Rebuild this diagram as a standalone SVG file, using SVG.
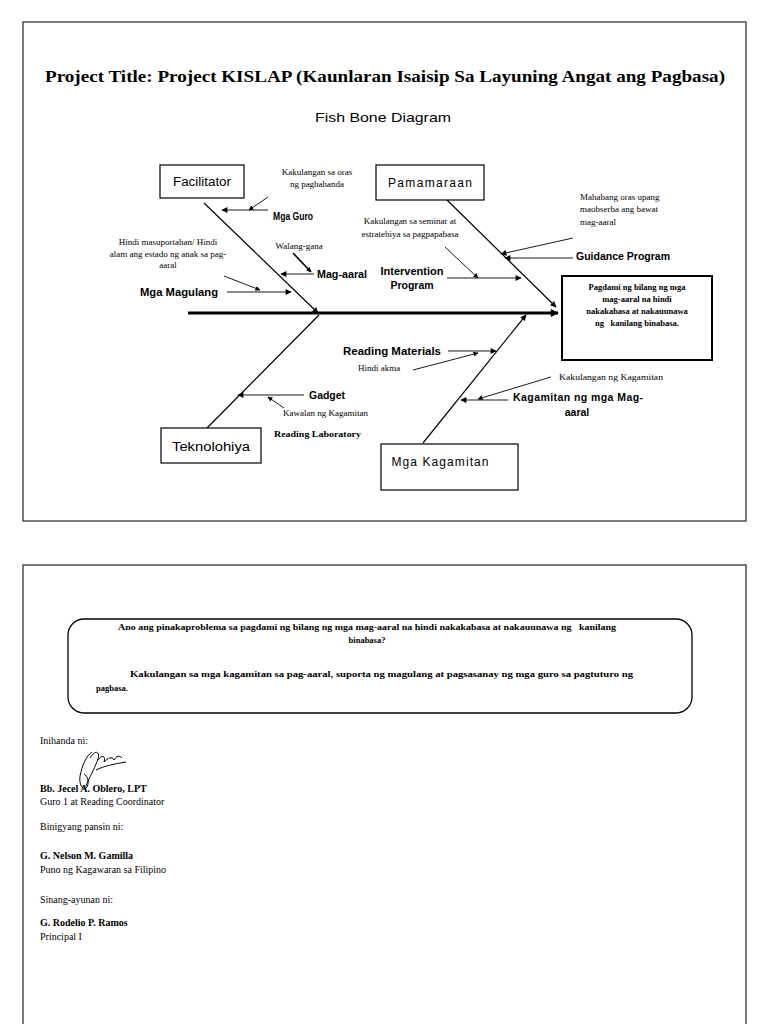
<svg xmlns="http://www.w3.org/2000/svg" width="768" height="1024" viewBox="0 0 768 1024">
<defs>
<marker id="ah" viewBox="0 0 10 10" refX="9" refY="5" markerWidth="7" markerHeight="6" markerUnits="userSpaceOnUse" orient="auto"><path d="M0,0 L10,5 L0,10 z" fill="#000"/></marker>
<marker id="ahs" viewBox="0 0 10 10" refX="9" refY="5" markerWidth="5" markerHeight="5" markerUnits="userSpaceOnUse" orient="auto"><path d="M0,0 L10,5 L0,10 z" fill="#000"/></marker>
<marker id="ahb" viewBox="0 0 10 10" refX="9" refY="5" markerWidth="9" markerHeight="8" markerUnits="userSpaceOnUse" orient="auto"><path d="M0,0 L10,5 L0,10 z" fill="#000"/></marker>
</defs>
<style>
.page{fill:#fff;stroke:#333;stroke-width:1.3}
.box{fill:#fff;stroke:#000;stroke-width:1.2}
.bx{font-family:"Liberation Sans",Arial,sans-serif;font-size:12px;fill:#000;text-anchor:middle}
.lb{font-family:"Liberation Sans",Arial,sans-serif;font-size:10.5px;font-weight:bold;fill:#000}
.sm{font-family:"Liberation Serif","Times New Roman",serif;font-size:9px;fill:#000}
.smb{font-family:"Liberation Serif","Times New Roman",serif;font-size:8.5px;font-weight:bold;fill:#000}
.tx{font-family:"Liberation Serif","Times New Roman",serif;font-size:10px;fill:#000}
.txb{font-family:"Liberation Serif","Times New Roman",serif;font-size:10px;font-weight:bold;fill:#000}
.bone{stroke:#000;stroke-width:1.2;fill:none}
.sub{stroke:#000;stroke-width:0.9;fill:none}
.pre{white-space:pre}
</style>
<rect x="0" y="0" width="768" height="1024" fill="#fff"/>
<rect class="page" x="23" y="22" width="723" height="499"/>
<rect class="page" x="23" y="565" width="723" height="470"/>

<text x="45" y="82" font-family="Liberation Serif,'Times New Roman',serif" font-size="17" font-weight="bold" textLength="680" lengthAdjust="spacingAndGlyphs">Project Title: Project KISLAP (Kaunlaran Isaisip Sa Layuning Angat ang Pagbasa)</text>
<text x="383" y="122" font-family="'Liberation Sans',Arial,sans-serif" font-size="13.5" text-anchor="middle" textLength="136" lengthAdjust="spacingAndGlyphs">Fish Bone Diagram</text>

<g id="connectors">
<line x1="188" y1="313" x2="558" y2="313" stroke="#000" stroke-width="3" marker-end="url(#ahb)"/>
<line class="bone" x1="204" y1="203" x2="318" y2="313" marker-end="url(#ah)"/>
<line class="bone" x1="447" y1="200" x2="556" y2="307" marker-end="url(#ah)"/>
<line class="bone" x1="207" y1="428" x2="319" y2="315"/>
<line class="bone" x1="423" y1="443" x2="526" y2="315" marker-end="url(#ah)"/>
<line class="sub" x1="268" y1="210" x2="222" y2="210" marker-end="url(#ah)"/>
<line class="sub" x1="268" y1="197" x2="249" y2="210" marker-end="url(#ahs)"/>
<line class="sub" x1="314" y1="274" x2="281" y2="274" marker-end="url(#ah)"/>
<line x1="293" y1="253" x2="311" y2="272" stroke="#000" stroke-width="1.6" marker-end="url(#ahs)"/>
<line class="sub" x1="227" y1="292" x2="291" y2="292" marker-end="url(#ah)"/>
<line class="sub" x1="224" y1="276" x2="260" y2="290" marker-end="url(#ahs)"/>
<line class="sub" x1="445" y1="247" x2="478" y2="278" marker-end="url(#ahs)"/>
<line class="sub" x1="447" y1="278" x2="521" y2="278" marker-end="url(#ah)"/>
<line class="sub" x1="573" y1="238" x2="501" y2="254" marker-end="url(#ah)"/>
<line class="sub" x1="573" y1="258" x2="505" y2="258" marker-end="url(#ah)"/>
<line class="sub" x1="304" y1="395" x2="238" y2="395" marker-end="url(#ah)"/>
<line class="sub" x1="284" y1="408" x2="268" y2="397" marker-end="url(#ahs)"/>
<line class="sub" x1="448" y1="351" x2="496" y2="351" marker-end="url(#ah)"/>
<line class="sub" x1="413" y1="370" x2="478" y2="353" marker-end="url(#ahs)"/>
<line class="sub" x1="551" y1="377" x2="478" y2="399" marker-end="url(#ahs)"/>
<line class="sub" x1="508" y1="400" x2="461" y2="400" marker-end="url(#ah)"/>
</g>

<g id="facilitator">
<rect class="box" x="160" y="165" width="84" height="33"/>
<text class="bx" x="202" y="186" textLength="58" lengthAdjust="spacingAndGlyphs">Facilitator</text>
</g>
<g id="pamamaraan">
<rect class="box" x="376" y="165" width="108" height="35"/>
<text class="bx" x="430" y="187" textLength="84" lengthAdjust="spacing">Pamamaraan</text>
</g>
<g id="teknolohiya">
<rect class="box" x="161" y="428" width="100" height="35"/>
<text class="bx" x="211" y="451" font-size="13" textLength="78" lengthAdjust="spacingAndGlyphs">Teknolohiya</text>
</g>
<g id="mga-kagamitan">
<rect class="box" x="381" y="444" width="137" height="46"/>
<text class="bx" x="440" y="466" font-size="13" textLength="97" lengthAdjust="spacing">Mga Kagamitan</text>
</g>
<g id="effect">
<rect x="562" y="276" width="150" height="84" fill="#fff" stroke="#000" stroke-width="2"/>
<text class="smb" x="637" y="290" text-anchor="middle">Pagdami ng bilang ng mga</text>
<text class="smb" x="637" y="302" text-anchor="middle">mag-aaral na hindi</text>
<text class="smb" x="637" y="314" text-anchor="middle">nakakabasa at nakauunawa</text>
<text class="smb pre" x="637" y="326" text-anchor="middle">ng   kanilang binabasa.</text>
</g>

<g id="mga-guro">
<text class="lb" x="273" y="220" font-size="9.5" textLength="40" lengthAdjust="spacingAndGlyphs">Mga Guro</text>
<text class="sm" x="317" y="175" text-anchor="middle">Kakulangan sa oras</text>
<text class="sm" x="317" y="187" text-anchor="middle">ng paghahanda</text>
</g>
<g id="mag-aaral">
<text class="lb" x="317" y="278" textLength="50" lengthAdjust="spacingAndGlyphs">Mag-aaral</text>
<text class="sm" x="299" y="249" text-anchor="middle">Walang-gana</text>
</g>
<g id="mga-magulang">
<text class="lb" x="140" y="296" font-size="11" textLength="78" lengthAdjust="spacingAndGlyphs">Mga Magulang</text>
<text class="sm" x="168" y="245" text-anchor="middle">Hindi masuportahan/ Hindi</text>
<text class="sm" x="168" y="257" text-anchor="middle">alam ang estado ng anak sa pag-</text>
<text class="sm" x="168" y="268" text-anchor="middle">aaral</text>
</g>
<g id="intervention">
<text class="lb" x="412" y="275" text-anchor="middle" textLength="63" lengthAdjust="spacingAndGlyphs">Intervention</text>
<text class="lb" x="412" y="289" text-anchor="middle">Program</text>
<text class="sm" x="410" y="224" text-anchor="middle" font-size="8.5">Kakulangan sa seminar at</text>
<text class="sm" x="410" y="237" text-anchor="middle" font-size="8.5">estratehiya sa pagpapabasa</text>
</g>
<g id="guidance">
<text class="lb" x="576" y="260" textLength="94" lengthAdjust="spacingAndGlyphs">Guidance Program</text>
<text class="sm" x="580" y="200" font-size="8.5">Mahabang oras upang</text>
<text class="sm" x="580" y="212" font-size="8.5">maobserba ang bawat</text>
<text class="sm" x="580" y="225" font-size="8.5">mag-aaral</text>
</g>
<g id="gadget">
<text class="lb" x="309" y="399" textLength="36" lengthAdjust="spacingAndGlyphs">Gadget</text>
<text class="sm" x="283" y="416" font-size="8.5" textLength="85" lengthAdjust="spacingAndGlyphs">Kawalan ng Kagamitan</text>
</g>
<g id="reading-lab">
<text class="smb" x="274" y="437" textLength="87" lengthAdjust="spacingAndGlyphs">Reading Laboratory</text>
</g>
<g id="reading-materials">
<text class="lb" x="343" y="355" textLength="98" lengthAdjust="spacingAndGlyphs">Reading Materials</text>
<text class="sm" x="358" y="371" font-size="8.5">Hindi akma</text>
</g>
<g id="kagamitan-mag-aaral">
<text class="lb" x="513" y="401" textLength="130" lengthAdjust="spacing">Kagamitan ng mga Mag-</text>
<text class="lb" x="577" y="416" text-anchor="middle">aaral</text>
<text class="sm" x="559" y="380" font-size="8.5" textLength="104" lengthAdjust="spacingAndGlyphs">Kakulangan ng Kagamitan</text>
</g>

<g id="question-box">
<rect x="68" y="619" width="624" height="94" rx="16" ry="16" fill="#fff" stroke="#000" stroke-width="1.3"/>
<text class="smb pre" x="367" y="630" text-anchor="middle" textLength="498" lengthAdjust="spacingAndGlyphs">Ano ang pinakaproblema sa pagdami ng bilang ng mga mag-aaral na hindi nakakabasa at nakauunawa ng   kanilang</text>
<text class="smb" x="367" y="643" text-anchor="middle">binabasa?</text>
<text class="smb" x="130" y="677" font-size="9.5" textLength="503" lengthAdjust="spacingAndGlyphs">Kakulangan sa mga kagamitan sa pag-aaral, suporta ng magulang at pagsasanay ng mga guro sa pagtuturo ng</text>
<text class="smb" x="96" y="691" font-size="9.5">pagbasa.</text>
</g>

<g id="signatories">
<text class="tx" x="40" y="744">Inihanda ni:</text>
<path d="M92,752 C86,756 82,766 80,776 C79,784 82,790 86,788 C90,784 88,776 84,774 M90,758 C96,748 102,752 96,764 C92,774 88,780 86,786 M98,760 C102,754 106,756 104,762 C108,758 112,756 114,760 C116,756 120,755 122,758 M96,770 C104,766 114,764 126,762" fill="none" stroke="#000" stroke-width="1"/>
<text class="txb" x="40" y="792">Bb. Jecel A. Oblero, LPT</text>
<text class="tx" x="40" y="805">Guro 1 at Reading Coordinator</text>
<text class="tx" x="40" y="830">Binigyang pansin ni:</text>
<text class="txb" x="40" y="859">G. Nelson M. Gamilla</text>
<text class="tx" x="40" y="873">Puno ng Kagawaran sa Filipino</text>
<text class="tx" x="40" y="903">Sinang-ayunan ni:</text>
<text class="txb" x="40" y="926">G. Rodelio P. Ramos</text>
<text class="tx" x="40" y="940">Principal I</text>
</g>
</svg>
